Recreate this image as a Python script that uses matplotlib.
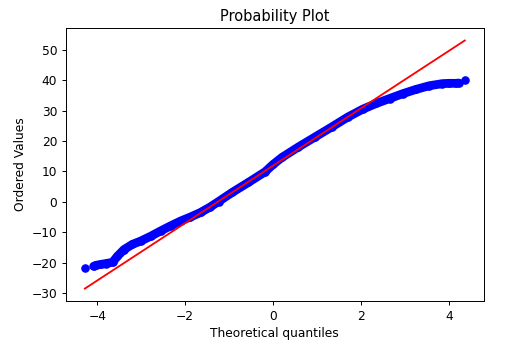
import matplotlib.pyplot as plt

# theoretical quantiles and ordered values (centre of the blue band)
q_left = [-4.28]
v_left = [-21.9]

q_band = [-4.08, -4.03, -3.92, -3.80, -3.65, -3.54, -3.39, -3.20, -3.01, -2.78,
          -2.56, -2.33, -2.10, -1.88, -1.65, -1.43, -1.24, -0.93, -0.56, -0.18,
          0.00, 0.20, 0.57, 0.95, 1.33, 1.70, 2.04, 2.35, 2.65, 2.95, 3.25,
          3.55, 3.85, 4.00, 4.16, 4.22]
v_band = [-21.2, -20.9, -20.6, -20.3, -19.9, -17.9, -15.7, -14.0, -12.9, -11.3,
          -9.6, -7.9, -6.3, -5.0, -3.5, -1.7, 0.1, 3.1, 6.4, 9.9,
          12.3, 14.6, 18.0, 21.3, 24.6, 27.9, 30.5, 32.4, 34.0, 35.6, 37.0,
          38.2, 38.9, 39.0, 39.0, 39.1]

q_right = [4.36]
v_right = [40.1]

# least-squares line as drawn
slope = 9.45
intercept = 11.9

DPI = 87.8
plt.figure(figsize=(527 / DPI, 351 / DPI), dpi=DPI)
ax = plt.axes([0.125, 0.1425, 0.793, 0.7775])

ax.plot(q_band, v_band, color="b", lw=7.2, solid_capstyle="round", solid_joinstyle="round")
ax.plot(q_band + q_left + q_right, v_band + v_left + v_right, "bo", ms=6)

q_min = min(q_left)
q_max = max(q_right)
ax.plot([q_min, q_max], [intercept + slope * q_min, intercept + slope * q_max], "r-")

ax.set_title("Probability Plot")
ax.set_xlabel("Theoretical quantiles")
ax.set_ylabel("Ordered Values")

plt.savefig("out.png", dpi=DPI)
